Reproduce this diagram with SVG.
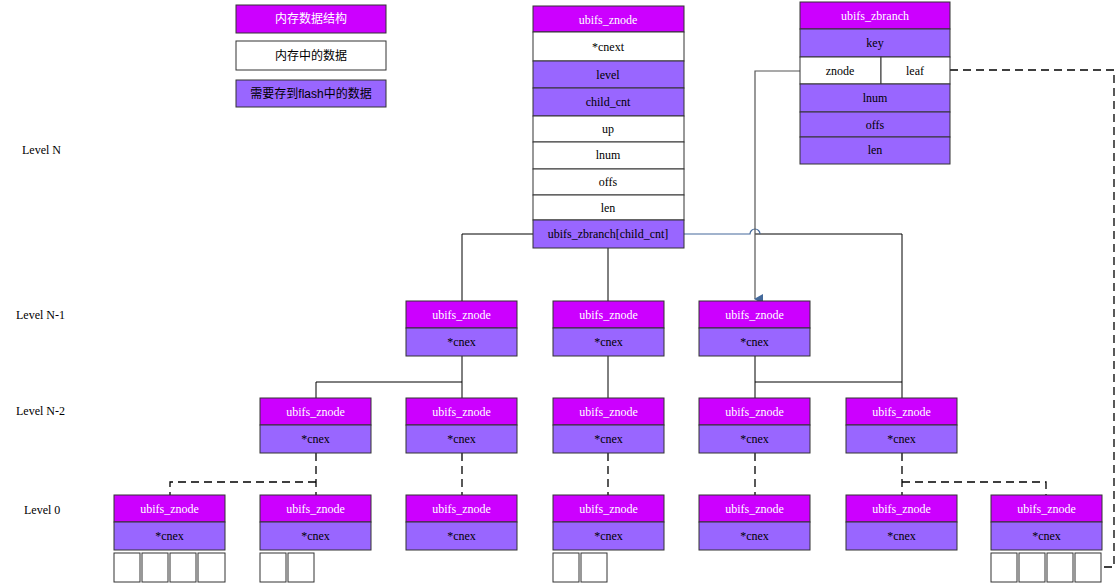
<svg xmlns="http://www.w3.org/2000/svg" width="1118" height="583" viewBox="0 0 1118 583">
<style>
.h{fill:#CC00FF;stroke:#333;stroke-width:1}
.p{fill:#9966FF;stroke:#333;stroke-width:1}
.w{fill:#fff;stroke:#333;stroke-width:1}
text{font-family:"Liberation Serif",serif;font-size:12px;text-anchor:middle;fill:#000}
.ht{fill:#fff}
.lv{text-anchor:start}
.c{fill:none;stroke:#000;stroke-width:1}
.d{fill:none;stroke:#000;stroke-width:1.3;stroke-dasharray:8,5}
.lg{font-family:"Liberation Sans","Noto Sans CJK SC",sans-serif}
</style>
<defs>
<marker id="ar" markerWidth="10" markerHeight="10" refX="5" refY="8" orient="auto" markerUnits="userSpaceOnUse"><path d="M0,0 L10,0 L5,9 z" transform="translate(0,0)" fill="#44699B"/></marker>
<g id="zn"><rect class="h" x="0" y="0" width="111" height="27"/><text class="ht" x="55.5" y="18">ubifs_znode</text><rect class="p" x="0" y="27" width="111" height="28"/><text x="55.5" y="45">*cnex</text></g>
</defs>
<rect width="1118" height="583" fill="#fff"/>
<g id="legend">
<rect class="h" x="236" y="5" width="150" height="28"/><text class="ht lg" x="311" y="23">内存数据结构</text>
<rect class="w" x="236" y="41" width="150" height="29"/><text class="lg" x="311" y="60">内存中的数据</text>
<rect class="p" x="236" y="80" width="150" height="27"/><text class="lg" x="311" y="98">需要存到flash中的数据</text>
</g>
<g id="levels">
<text class="lv" x="22" y="154">Level N</text>
<text class="lv" x="16" y="319">Level N-1</text>
<text class="lv" x="16" y="415">Level N-2</text>
<text class="lv" x="24" y="514">Level 0</text>
</g>
<g id="connectors">
<path class="c" d="M608,248 V301 M533,234 H462 V301 M755,234 H902 V398"/>
<path d="M684,234 H750 A5,5 0 0 1 760,234" fill="none" stroke="#44699B" stroke-width="1.2"/>
<path d="M800,71 H755 V299" fill="none" stroke="#555" stroke-width="1.2" marker-end="url(#ar)"/>
<path class="c" d="M462,355 V398 M462,382 H316 V398 M608,355 V398 M755,355 V398 M755,382 H902"/>
<path class="d" d="M316,453 V495 M316,482 H170 V495 M462,453 V495 M608,453 V495 M755,453 V495 M902,453 V495 M902,482 H1046 V495 M950,70 H1114 V567 H1101"/>
</g>
<g id="znode-main">
<rect class="h" x="533" y="6" width="151" height="26"/><text class="ht" x="608" y="24">ubifs_znode</text>
<rect class="w" x="533" y="32" width="151" height="29"/><text x="608" y="51">*cnext</text>
<rect class="p" x="533" y="61" width="151" height="27"/><text x="608" y="79">level</text>
<rect class="p" x="533" y="88" width="151" height="28"/><text x="608" y="106">child_cnt</text>
<rect class="w" x="533" y="116" width="151" height="26"/><text x="608" y="133">up</text>
<rect class="w" x="533" y="142" width="151" height="27"/><text x="608" y="159">lnum</text>
<rect class="w" x="533" y="169" width="151" height="26"/><text x="608" y="186">offs</text>
<rect class="w" x="533" y="195" width="151" height="25"/><text x="608" y="212">len</text>
<rect class="p" x="533" y="220" width="151" height="28"/><text x="608" y="238">ubifs_zbranch[child_cnt]</text>
</g>
<g id="zbranch">
<rect class="h" x="800" y="2" width="150" height="27"/><text class="ht" x="875" y="20">ubifs_zbranch</text>
<rect class="p" x="800" y="29" width="150" height="28"/><text x="875" y="47">key</text>
<rect class="w" x="800" y="57" width="81" height="27"/><text x="840" y="75">znode</text>
<rect class="w" x="881" y="57" width="69" height="27"/><text x="915" y="75">leaf</text>
<rect class="p" x="800" y="84" width="150" height="28"/><text x="875" y="102">lnum</text>
<rect class="p" x="800" y="112" width="150" height="25"/><text x="875" y="129">offs</text>
<rect class="p" x="800" y="137" width="150" height="27"/><text x="875" y="154">len</text>
</g>
<g id="n1a"><use href="#zn" x="406" y="301"/></g>
<g id="n1b"><use href="#zn" x="553" y="301"/></g>
<g id="n1c"><use href="#zn" x="699" y="301"/></g>
<g id="n2a"><use href="#zn" x="260" y="398"/></g>
<g id="n2b"><use href="#zn" x="406" y="398"/></g>
<g id="n2c"><use href="#zn" x="553" y="398"/></g>
<g id="n2d"><use href="#zn" x="699" y="398"/></g>
<g id="n2e"><use href="#zn" x="846" y="398"/></g>
<g id="l0a"><use href="#zn" x="114" y="495"/>
<rect class="w" x="114" y="553" width="26" height="29"/><rect class="w" x="142" y="553" width="26" height="29"/><rect class="w" x="170" y="553" width="26" height="29"/><rect class="w" x="198" y="553" width="27" height="29"/></g>
<g id="l0b"><use href="#zn" x="260" y="495"/>
<rect class="w" x="260" y="553" width="26" height="29"/><rect class="w" x="288" y="553" width="26" height="29"/></g>
<g id="l0c"><use href="#zn" x="406" y="495"/></g>
<g id="l0d"><use href="#zn" x="553" y="495"/>
<rect class="w" x="553" y="553" width="26" height="29"/><rect class="w" x="581" y="553" width="26" height="29"/></g>
<g id="l0e"><use href="#zn" x="699" y="495"/></g>
<g id="l0f"><use href="#zn" x="846" y="495"/></g>
<g id="l0g"><use href="#zn" x="991" y="495"/>
<rect class="w" x="991" y="553" width="26" height="29"/><rect class="w" x="1019" y="553" width="26" height="29"/><rect class="w" x="1047" y="553" width="26" height="29"/><rect class="w" x="1075" y="553" width="26" height="29"/></g>
</svg>
